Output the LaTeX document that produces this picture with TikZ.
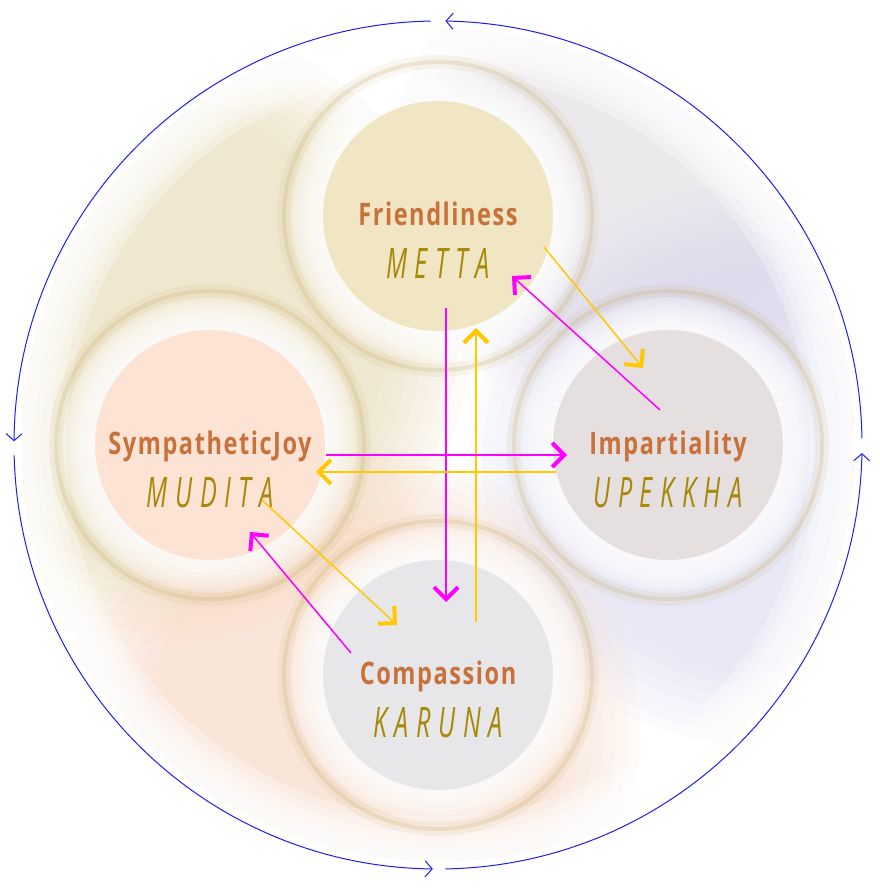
\documentclass[tikz,border=0pt]{standalone}
\usepackage{fontspec}
\usetikzlibrary{arrows.meta,backgrounds}
\newfontfamily\namefont[FakeStretch=0.76,LetterSpace=5]{Open Sans}
\newfontfamily\palifont[FakeStretch=0.6,LetterSpace=18]{Open Sans}
\definecolor{NameBrown}{RGB}{200,113,58}
\definecolor{PaliGold}{RGB}{168,136,8}
\definecolor{MettaFill}{RGB}{240,230,196}
\definecolor{MuditaFill}{RGB}{253,227,212}
\definecolor{UpekkhaFill}{RGB}{229,223,224}
\definecolor{KarunaFill}{RGB}{231,231,234}
\definecolor{ArrMagenta}{RGB}{255,0,255}
\definecolor{ArrGold}{RGB}{255,200,0}
\definecolor{CycleBlue}{RGB}{30,30,240}
\definecolor{RingGold}{RGB}{196,170,100}
\definecolor{BlobBeige}{RGB}{228,212,164}
\definecolor{BlobLav}{RGB}{212,210,240}
\definecolor{BlobGrey}{RGB}{222,214,222}
\definecolor{BlobPeach}{RGB}{250,208,182}

\begin{document}
\begin{tikzpicture}[x=1pt, y=1pt,
    virtue/.style={circle, minimum size=230pt, inner sep=0pt},
    engl/.style={anchor=base, font=\namefont\bfseries\fontsize{31pt}{31pt}\selectfont, text=NameBrown},
    pali/.style={anchor=base, font=\palifont\itshape\fontsize{42pt}{42pt}\selectfont, text=PaliGold},
    mag/.style={ArrMagenta, line width=1.5pt, -{Straight Barb[length=12pt,width=24pt,line width=4pt]}},
    gld/.style={ArrGold, line width=1.5pt, -{Straight Barb[length=12pt,width=24pt,line width=4pt]}},
    cyc/.style={CycleBlue, line width=1pt, -{Straight Barb[length=7pt,width=16pt]}}
]
    \useasboundingbox (0,0) rectangle (879,894);
    \coordinate (hub) at (438,449);

    \node[virtue, fill=MettaFill] (metta) at (438,678) {};
    \node[virtue, fill=MuditaFill] (mudita) at (210,449) {};
    \node[virtue, fill=UpekkhaFill] (upekkha) at (668,449) {};
    \node[virtue, fill=KarunaFill] (karuna) at (438,219) {};

    % soft swirl behind the circles
    \begin{scope}[on background layer]
        \fill[white] (0,0) rectangle (879,894);
        \begin{scope}
            \clip (hub) circle (416pt);
            \foreach \c/\x/\y/\R in {BlobBeige/160/560/310, BlobGrey/640/720/250, BlobLav/750/430/280, BlobPeach/350/160/290} {
                \foreach \k in {0,...,7} {
                    \pgfmathsetmacro{\rr}{\R-12*\k}
                    \fill[\c, opacity=0.08] (\x,\y) circle (\rr pt);
                }
            }
            \foreach \r in {372,380,...,412}
                \fill[white, opacity=0.3, even odd rule] (hub) circle (440pt) circle (\r pt);
        \end{scope}
        \foreach \n in {metta,mudita,upekkha,karuna} {
            \draw[RingGold, opacity=0.1, line width=14pt] (\n) circle (154pt);
            \draw[RingGold, opacity=0.22, line width=4pt] (\n) circle (154pt);
            \foreach \r in {148,144,...,116}
                \fill[white, opacity=0.2] (\n) circle (\r pt);
        }
    \end{scope}

    \node[engl] (metta-en) at ([yshift=-10pt]metta.center) {Friendliness};
    \node[pali] (metta-pa) at ([yshift=-63pt]metta.center) {METTA};
    \node[engl] (mudita-en) at ([yshift=-10pt]mudita.center) {SympatheticJoy};
    \node[pali] (mudita-pa) at ([yshift=-63pt]mudita.center) {MUDITA};
    \node[engl] (upekkha-en) at ([yshift=-10pt]upekkha.center) {Impartiality};
    \node[pali] (upekkha-pa) at ([yshift=-63pt]upekkha.center) {UPEKKHA};
    \node[engl] (karuna-en) at ([yshift=-10pt]karuna.center) {Compassion};
    \node[pali] (karuna-pa) at ([yshift=-63pt]karuna.center) {KARUNA};

    \draw[mag] ([shift={(8,-92)}]metta.center) -- ([shift={(8,73)}]karuna.center);
    \draw[gld] ([shift={(38,53)}]karuna.center) -- ([shift={(38,-112)}]metta.center);
    \draw[mag] ([shift={(116,-10)}]mudita.center) -- ([shift={(-101,-10)}]upekkha.center);
    \draw[gld] ([shift={(-112,-27)}]upekkha.center) -- ([shift={(106,-27)}]mudita.center);
    \draw[mag] ([shift={(-8,35)}]upekkha.center) -- ([shift={(74,-60)}]metta.center);
    \draw[gld] ([shift={(106,-31)}]metta.center) -- ([shift={(-25,77)}]upekkha.center);
    \draw[mag] ([shift={(-87,22)}]karuna.center) -- ([shift={(40,-87)}]mudita.center);
    \draw[gld] ([shift={(52,-55)}]mudita.center) -- ([shift={(-41,50)}]karuna.center);

    % outer cycle
    \foreach \a/\b in {0.9/89, 91/179.5, 181.4/269.3, 271/358.9}
        \draw[cyc] (hub) ++(\a:424pt) arc[start angle=\a, end angle=\b, radius=424pt];
\end{tikzpicture}
\end{document}
